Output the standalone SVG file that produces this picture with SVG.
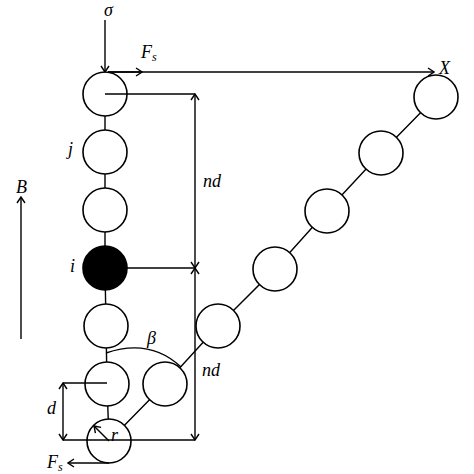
<svg xmlns="http://www.w3.org/2000/svg" width="474" height="474" viewBox="0 0 474 474">
<style>
.c{fill:#fff;stroke:#000;stroke-width:1.6}
.f{fill:#000;stroke:#000;stroke-width:1.6}
.l{stroke:#000;stroke-width:1.4;fill:none}
.t{font-family:"Liberation Serif","DejaVu Serif",serif;font-style:italic;font-size:18px;fill:#000}
.s{font-size:12px}
</style>
<defs>
<marker id="ah" viewBox="0 0 10 10" refX="9" refY="5" markerWidth="10" markerHeight="10" markerUnits="userSpaceOnUse" orient="auto-start-reverse">
<path d="M3,1 L9,5 L3,9" fill="none" stroke="#000" stroke-width="1.4"/>
</marker>
</defs>
<rect width="474" height="474" fill="#fff"/>
<g id="connectors">
<polyline class="l" points="105,94 105,152 105,210 105,268 106,326 107,384 109,441"/>
<polyline class="l" points="109,441 165,384 218,326 275,269 327,211 381,153 436,97"/>
</g>
<g id="n1"><circle class="c" cx="105" cy="94" r="22"/></g>
<g id="n2"><circle class="c" cx="105" cy="152" r="22"/></g>
<g id="n3"><circle class="c" cx="105" cy="210" r="22"/></g>
<g id="n4"><circle class="f" cx="105" cy="268" r="22"/></g>
<g id="n5"><circle class="c" cx="106" cy="326" r="22"/></g>
<g id="n6"><circle class="c" cx="107" cy="384" r="22"/></g>
<g id="n7"><circle class="c" cx="109" cy="441" r="22"/></g>
<g id="d1"><circle class="c" cx="165" cy="384" r="22"/></g>
<g id="d2"><circle class="c" cx="218" cy="326" r="22"/></g>
<g id="d3"><circle class="c" cx="275" cy="269" r="22"/></g>
<g id="d4"><circle class="c" cx="327" cy="211" r="22"/></g>
<g id="d5"><circle class="c" cx="381" cy="153" r="22"/></g>
<g id="d6"><circle class="c" cx="436" cy="97" r="22"/></g>
<g id="annotations">
<line class="l" x1="105" y1="20" x2="105" y2="72" marker-end="url(#ah)"/>
<line class="l" x1="108" y1="72" x2="434" y2="72" marker-end="url(#ah)"/>
<line class="l" x1="108" y1="72" x2="142" y2="72" marker-end="url(#ah)"/>
<line class="l" x1="105" y1="94" x2="195" y2="94"/>
<line class="l" x1="195" y1="94" x2="195" y2="268" marker-start="url(#ah)" marker-end="url(#ah)"/>
<line class="l" x1="127" y1="268" x2="195" y2="268"/>
<line class="l" x1="195" y1="268" x2="195" y2="440" marker-start="url(#ah)" marker-end="url(#ah)"/>
<line class="l" x1="63" y1="440" x2="195" y2="440"/>
<line class="l" x1="63" y1="383" x2="107" y2="383"/>
<line class="l" x1="63" y1="383" x2="63" y2="440" marker-start="url(#ah)" marker-end="url(#ah)"/>
<line class="l" x1="109" y1="441" x2="94" y2="426" marker-end="url(#ah)"/>
<line class="l" x1="109" y1="463" x2="68" y2="463" marker-end="url(#ah)"/>
<line class="l" x1="21" y1="339" x2="21" y2="197" marker-end="url(#ah)"/>
<path class="l" d="M106,353 Q150,338 181,367"/>
</g>
<g id="labels">
<text class="t" x="108.5" y="16" text-anchor="middle">σ</text>
<text class="t" x="141" y="58">F<tspan class="s" dy="3">s</tspan></text>
<text class="t" x="439" y="74">X</text>
<text class="t" x="68" y="155">j</text>
<text class="t" x="16" y="193">B</text>
<text class="t" x="203" y="187">nd</text>
<text class="t" x="70" y="272">i</text>
<text class="t" x="147" y="344">β</text>
<text class="t" x="202" y="376">nd</text>
<text class="t" x="47" y="414">d</text>
<text class="t" x="111" y="441">r</text>
<text class="t" x="47" y="468">F<tspan class="s" dy="3">s</tspan></text>
</g>
</svg>
